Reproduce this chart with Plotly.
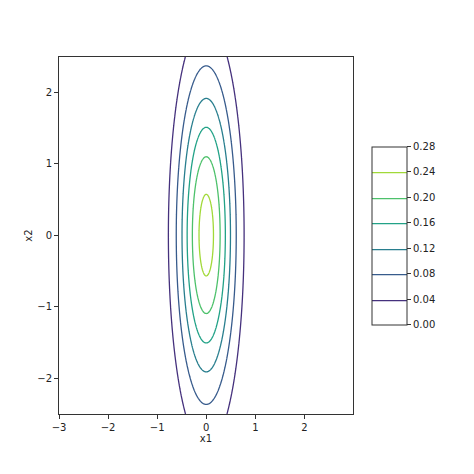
import numpy as np
import plotly.graph_objects as go
from plotly.colors import sample_colorscale

# bivariate normal
mean = [0.0, 0.0]
cov = [[0.16, 0.0], [0.0, 2.4]]

x1 = np.arange(-3, 3, 0.01)
x2 = np.arange(-2.5, 2.5, 0.01)
levels = [0.00, 0.04, 0.08, 0.12, 0.16, 0.20, 0.24, 0.28]


def gauss_pdf(x1, x2, mean, cov):
    X1, X2 = np.meshgrid(x1, x2)
    c = np.array(cov)
    inv = np.linalg.inv(c)
    d1 = X1 - mean[0]
    d2 = X2 - mean[1]
    q = inv[0, 0] * d1**2 + 2 * inv[0, 1] * d1 * d2 + inv[1, 1] * d2**2
    return np.exp(-0.5 * q) / (2 * np.pi * np.sqrt(np.linalg.det(c)))


z = gauss_pdf(x1, x2, mean, cov)

# line colours as matplotlib picks them: viridis over the full 0..0.28 range
drawn = levels[1:-1]
fracs = [(v - levels[0]) / (levels[-1] - levels[0]) for v in drawn]
cols = sample_colorscale('Viridis', fracs)
scale = [[i / (len(cols) - 1), c] for i, c in enumerate(cols)]

font = dict(family='DejaVu Sans', size=10, color='#222')

fig = go.Figure(go.Contour(
    x=x1,
    y=x2,
    z=z,
    colorscale=scale,
    zmin=levels[0],
    zmax=levels[-1],
    autocontour=False,
    contours=dict(start=drawn[0], end=drawn[-1], size=0.04, coloring='lines'),
    line=dict(width=1.3),
    colorbar=dict(
        x=1.0646, xanchor='left', xpad=0,
        y=0.5, yanchor='middle', ypad=0,
        lenmode='pixels', len=178,
        thickness=35,
        outlinewidth=1, outlinecolor='#333',
        tickvals=levels,
        tickformat='.2f',
        ticks='outside', ticklen=4, tickcolor='#333',
        tickfont=font,
    ),
))

axis = dict(
    showgrid=False, zeroline=False,
    showline=True, linecolor='#333', linewidth=1, mirror=True,
    ticks='outside', ticklen=4, tickcolor='#333',
    tickfont=font,
)

fig.update_layout(
    width=458, height=458,
    margin=dict(l=51, r=113, t=49, b=52),
    plot_bgcolor='white',
    paper_bgcolor='white',
    font=font,
    xaxis=dict(axis, range=[-3, 2.99], tickvals=[-3, -2, -1, 0, 1, 2],
               title=dict(text='x1', font=font, standoff=0)),
    yaxis=dict(axis, range=[-2.5, 2.49], tickvals=[-2, -1, 0, 1, 2],
               title=dict(text='x2', font=font, standoff=2)),
)

fig.write_html("out.html")
